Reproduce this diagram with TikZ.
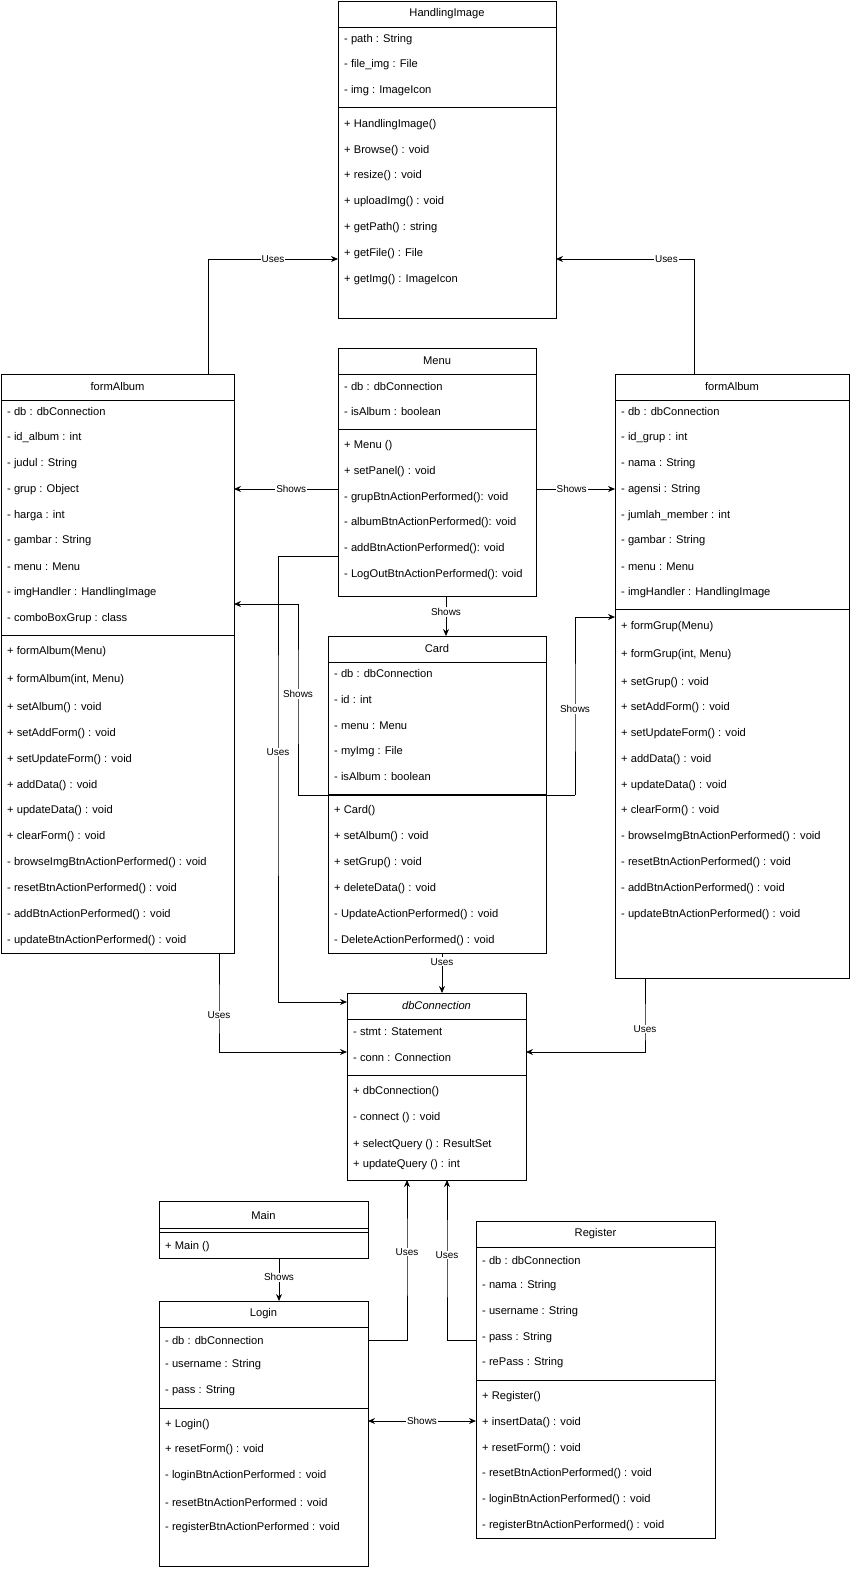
\documentclass[tikz,border=0pt]{standalone}
\usepackage{fontspec}
\setmainfont{Liberation Sans}
\usetikzlibrary{arrows.meta}
\begin{document}
\begin{tikzpicture}[x=1bp,y=-1bp,
  every node/.style={font=\fontsize{11.2}{13}\selectfont},
  box/.style={draw,line width=0.8pt,anchor=north west,inner sep=0pt},
  it/.style={anchor=west,inner sep=0pt},
  ttl/.style={inner sep=0pt},
  lbl/.style={fill=white,inner sep=1pt,font=\fontsize{10}{12}\selectfont},
  con/.style={line width=0.8pt,-{Stealth[length=7pt,width=6pt]}},
  ln/.style={line width=0.8pt}]
\useasboundingbox (0,0) rectangle (856,1580);
\newcommand\clsbox[8]{%
  \node[box,minimum width=#4bp-#2bp,minimum height=#5bp-#3bp] (#1) at (#2,#3) {};
  \draw[ln] (#2,#6) -- (#4,#6);
  \draw[ln] (#2,#7) -- (#4,#7);
  \node[ttl] (#1t) at ({(#2+#4)/2},{(#3+#6)/2}) {#8};}
% HandlingImage
\clsbox{hi}{338}{1}{556}{318}{27}{107}{HandlingImage}
\foreach \y/\t [count=\i] in {40/{- path : String},65/{- file\_img : File},91/{- img : ImageIcon},125/{+ HandlingImage()},151/{+ Browse() : void},176/{+ resize() : void},202/{+ uploadImg() : void},228/{+ getPath() : string},254/{+ getFile() : File},280/{+ getImg() : ImageIcon}}
  \node[it] (hi\i) at (344,\y) {\t};
% Menu
\clsbox{me}{338}{348}{536}{596}{374}{429}{Menu}
\foreach \y/\t [count=\i] in {387/{- db : dbConnection},412/{- isAlbum : boolean},446/{+ Menu ()},472/{+ setPanel() : void},498/{- grupBtnActionPerformed(): void},523/{- albumBtnActionPerformed(): void},549/{- addBtnActionPerformed(): void},575/{- LogOutBtnActionPerformed(): void}}
  \node[it] (me\i) at (344,\y) {\t};
% formAlbum left
\clsbox{fa}{1}{374}{234}{953}{400}{635}{formAlbum}
\foreach \y/\t [count=\i] in {412/{- db : dbConnection},438/{- id\_album : int},464/{- judul : String},490/{- grup : Object},516/{- harga : int},541/{- gambar : String},567/{- menu : Menu},593/{- imgHandler : HandlingImage},619/{- comboBoxGrup : class},652/{+ formAlbum(Menu)},680/{+ formAlbum(int, Menu)},708/{+ setAlbum() : void},734/{+ setAddForm() : void},760/{+ setUpdateForm() : void},786/{+ addData() : void},811/{+ updateData() : void},837/{+ clearForm() : void},863/{- browseImgBtnActionPerformed() : void},889/{- resetBtnActionPerformed() : void},915/{- addBtnActionPerformed() : void},941/{- updateBtnActionPerformed() : void}}
  \node[it] (fa\i) at (7,\y) {\t};
% formAlbum right
\clsbox{fg}{615}{374}{849}{978}{400}{609}{formAlbum}
\foreach \y/\t [count=\i] in {412/{- db : dbConnection},438/{- id\_grup : int},464/{- nama : String},490/{- agensi : String},516/{- jumlah\_member : int},541/{- gambar : String},567/{- menu : Menu},593/{- imgHandler : HandlingImage},627/{+ formGrup(Menu)},655/{+ formGrup(int, Menu)},683/{+ setGrup() : void},708/{+ setAddForm() : void},734/{+ setUpdateForm() : void},760/{+ addData() : void},786/{+ updateData() : void},811/{+ clearForm() : void},837/{- browseImgBtnActionPerformed() : void},863/{- resetBtnActionPerformed() : void},889/{- addBtnActionPerformed() : void},915/{- updateBtnActionPerformed() : void}}
  \node[it] (fg\i) at (621,\y) {\t};
% Card
\clsbox{ca}{328}{636}{546}{953}{662}{794}{Card}
\foreach \y/\t [count=\i] in {674/{- db : dbConnection},700/{- id : int},726/{- menu : Menu},752/{- myImg : File},777/{- isAlbum : boolean},811/{+ Card()},837/{+ setAlbum() : void},863/{+ setGrup() : void},889/{+ deleteData() : void},915/{- UpdateActionPerformed() : void},941/{- DeleteActionPerformed() : void}}
  \node[it] (ca\i) at (334,\y) {\t};
% dbConnection
\clsbox{db}{347}{993}{526}{1180}{1019}{1075}{\itshape dbConnection}
\foreach \y/\t [count=\i] in {1032/{- stmt : Statement},1057/{- conn : Connection},1092/{+ dbConnection()},1118/{- connect () : void},1145/{+ selectQuery () : ResultSet},1165/{+ updateQuery () : int}}
  \node[it] (db\i) at (353,\y) {\t};
% Main
\node[box,minimum width=209bp,minimum height=57bp] (ma) at (159,1201) {};
\draw[ln] (159,1228) -- (368,1228);
\draw[ln] (159,1232) -- (368,1232);
\node[ttl] (mat) at (263.5,1215) {Main};
\node[it] (ma1) at (165,1247) {+ Main ()};
% Login
\clsbox{lo}{159}{1301}{368}{1566}{1327}{1408}{Login}
\foreach \y/\t [count=\i] in {1340/{- db : dbConnection},1365/{- username : String},1391/{- pass : String},1425/{+ Login()},1450/{+ resetForm() : void},1476/{- loginBtnActionPerformed : void},1502/{- resetBtnActionPerformed : void},1528/{- registerBtnActionPerformed : void}}
  \node[it] (lo\i) at (165,\y) {\t};
% Register
\clsbox{re}{476}{1221}{715}{1538}{1247}{1380}{Register}
\foreach \y/\t [count=\i] in {1260/{- db : dbConnection},1286/{- nama : String},1312/{- username : String},1338/{- pass : String},1363/{- rePass : String},1397/{+ Register()},1423/{+ insertData() : void},1449/{+ resetForm() : void},1474/{- resetBtnActionPerformed() : void},1500/{- loginBtnActionPerformed() : void},1526/{- registerBtnActionPerformed() : void}}
  \node[it] (re\i) at (482,\y) {\t};
% connector end points
\coordinate (faTop) at (208,374); \coordinate (hiL) at (338,259);
\coordinate (fgTop) at (694,374); \coordinate (hiR) at (556,259);
\coordinate (meL) at (338,489); \coordinate (faR) at (234,489);
\coordinate (meR) at (536,489); \coordinate (fgL) at (615,489);
\coordinate (meB) at (446,596); \coordinate (caT) at (446,636);
\coordinate (meL2) at (338,556); \coordinate (dbL) at (347,1002);
\coordinate (caS) at (575,795); \coordinate (faR2) at (234,604); \coordinate (fgL2) at (615,617);
\coordinate (caB) at (442,953); \coordinate (dbT) at (442,993);
\coordinate (faB) at (219,953); \coordinate (dbL2) at (347,1052);
\coordinate (fgB) at (645,978); \coordinate (dbR) at (526,1052);
\coordinate (maB) at (279,1258); \coordinate (loT) at (279,1301);
\coordinate (loR) at (368,1340); \coordinate (dbB1) at (407,1180);
\coordinate (reL) at (476,1340); \coordinate (dbB2) at (447,1180);
\coordinate (loR2) at (368,1421); \coordinate (reL2) at (476,1421);
% connectors
\draw[con] (faTop) |- node[lbl,pos=0.75] {Uses} (hiL);
\draw[con] (fgTop) |- node[lbl,pos=0.6] {Uses} (hiR);
\draw[con] (meL) -- node[lbl,pos=0.45] {Shows} (faR);
\draw[con] (meR) -- node[lbl,pos=0.45] {Shows} (fgL);
\draw[con] (meB) -- node[lbl,pos=0.4] {Shows} (caT);
\draw[con] (meL2) -| (278,752) node[lbl] {Uses} |- (dbL);
\draw[con] (caS) -| (298,694) node[lbl] {Shows} |- (faR2);
\draw[con] (caS) |- (575,709) node[lbl] {Shows} |- (fgL2);
\draw[con] (caB) -- node[lbl,pos=0.22] {Uses} (dbT);
\draw[con] (faB) -- (219,1015) node[lbl] {Uses} |- (dbL2);
\draw[con] (fgB) -- (645,1029) node[lbl] {Uses} |- (dbR);
\draw[con] (maB) -- node[lbl,pos=0.45] {Shows} (loT);
\draw[con] (loR) -| (407,1252) node[lbl] {Uses} -- (dbB1);
\draw[con] (reL) -| (447,1255) node[lbl] {Uses} -- (dbB2);
\draw[con,{Stealth[length=7pt,width=6pt]}-{Stealth[length=7pt,width=6pt]}] (loR2) -- node[lbl] {Shows} (reL2);
\end{tikzpicture}
\end{document}
